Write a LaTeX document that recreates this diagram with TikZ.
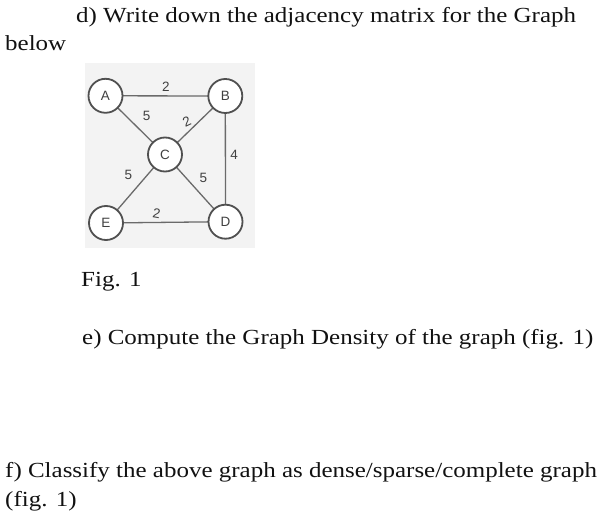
\documentclass[tikz,border=0pt]{standalone}
\usepackage{fontspec}
\setmainfont[FakeStretch=1.162]{Liberation Serif}
\newfontfamily\gfont{Liberation Sans}
\definecolor{bggray}{HTML}{F3F3F3}
\definecolor{circgray}{HTML}{505050}
\definecolor{edgegray}{HTML}{6A6A6A}
\definecolor{labgray}{HTML}{404040}
\definecolor{txtcol}{HTML}{111111}
\tikzset{
  txt/.style={anchor=base west, inner sep=0pt, text=txtcol, font=\fontsize{21.5}{26}\selectfont},
  vtx/.style={circle, draw=circgray, line width=1.8pt, minimum size=34pt, inner sep=0pt, fill=white, font=\gfont\fontsize{13.5}{15}\selectfont, text=labgray},
  edge/.style={draw=edgegray, line width=1.3pt},
  wlab/.style={inner sep=0pt, font=\gfont\fontsize{13.5}{15}\selectfont, text=labgray}
}
\begin{document}
\begin{tikzpicture}[x=1pt,y=-1pt]
\useasboundingbox (0,0) rectangle (599,526);
\fill[bggray] (85,63) rectangle (255,248);
% text
\node[txt] (d) at (76,23) {d) Write down the adjacency matrix for the Graph};
\node[txt] (below) at (5,51) {below};
\node[txt] (fig) at (81,287) {Fig. 1};
\node[txt] (e) at (82,344) {e) Compute the Graph Density of the graph (fig. 1)};
\node[txt] (f) at (5,477) {f) Classify the above graph as dense/sparse/complete graph};
\node[txt] (f2) at (5,506) {(fig. 1)};
% graph
\coordinate (pA) at (105.5,95.8);
\coordinate (pB) at (225.3,96);
\coordinate (pC) at (165,154.5);
\coordinate (pE) at (106,223);
\coordinate (pD) at (225.5,221.7);
\draw[edge] (pA) -- (pB);
\draw[edge] (pA) -- (pC);
\draw[edge] (pC) -- (pB);
\draw[edge] (pB) -- (pD);
\draw[edge] (pE) -- (pC);
\draw[edge] (pC) -- (pD);
\draw[edge] (pE) -- (pD);
\node[vtx] (A) at (pA) {A};
\node[vtx] (B) at (pB) {B};
\node[vtx] (C) at (pC) {C};
\node[vtx] (E) at (pE) {E};
\node[vtx] (D) at (pD) {D};
\node[wlab] (wAB) at (166,87) {2};
\node[wlab] (wAC) at (146.7,116) {5};
\node[wlab, rotate=25] (wCB) at (186.7,121.7) {2};
\node[wlab] (wBD) at (234,155) {4};
\node[wlab] (wEC) at (128.3,175) {5};
\node[wlab] (wCD) at (203.3,178.3) {5};
\node[wlab, rotate=-10] (wED) at (156.7,214) {2};
\end{tikzpicture}
\end{document}
